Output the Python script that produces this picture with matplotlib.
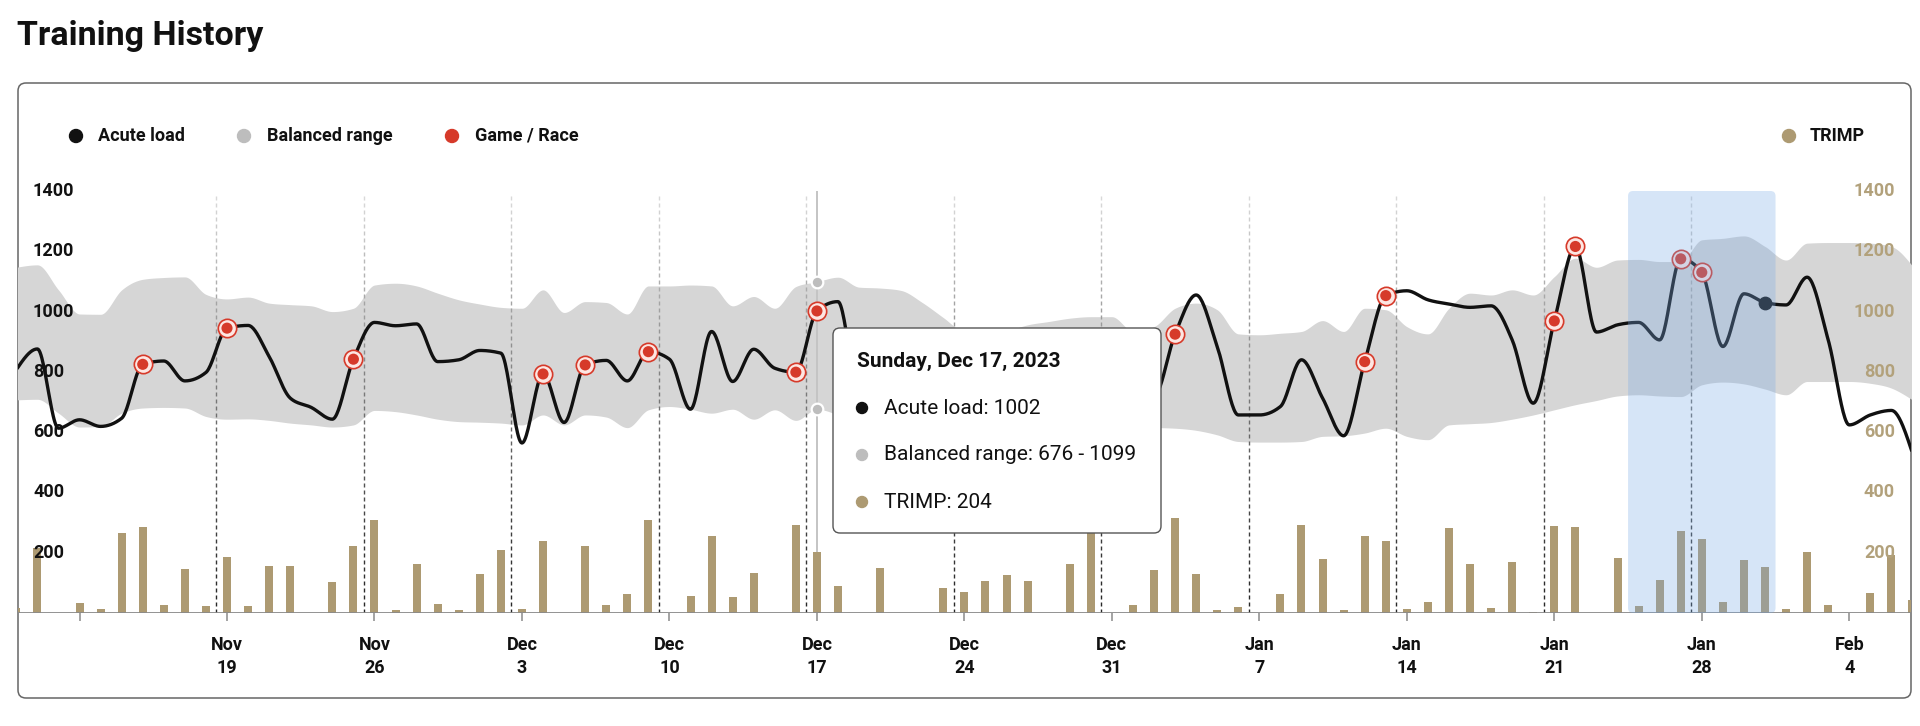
import numpy as np
import pandas as pd
import matplotlib
matplotlib.use("Agg")
import matplotlib.pyplot as plt
import matplotlib.dates as mdates
from matplotlib import transforms
from matplotlib.patches import FancyBboxPatch
from matplotlib.collections import LineCollection

plt.rcParams['font.family'] = ['Roboto', 'DejaVu Sans']

# daily series, Nov 9 2023 .. Feb 7 2024
start_date = "2023-11-09"
acute_load = [
    807, 876, 613, 641, 619, 646, 825, 836, 770, 798, 945, 954, 851, 713, 682, 643,
    842, 964, 953, 959, 834, 840, 871, 862, 564, 793, 632, 823, 838, 770, 867, 842,
    676, 934, 768, 875, 812, 799, 1002, 1033, 720, 690, 760, 820, 780, 700, 690, 760,
    800, 770, 730, 790, 830, 760, 720, 925, 1055, 884, 657, 657, 685, 840, 713, 588,
    834, 1053, 1069, 1039, 1025, 1014, 1019, 906, 696, 969, 1216, 932, 956, 964, 906,
    1175, 1130, 884, 1059, 1030, 1022, 1114, 906, 624, 657, 672, 530,
]
range_high = [
    1147, 1155, 1072, 992, 991, 1072, 1107, 1113, 1115, 1057, 1042, 1048, 1028, 1023,
    1019, 1000, 1011, 1088, 1094, 1085, 1061, 1039, 1025, 1014, 1011, 1072, 997, 1033,
    1030, 992, 1085, 1085, 1088, 1085, 1019, 1050, 1011, 1083, 1099, 1114, 1081, 1078,
    1070, 1030, 980, 930, 920, 935, 956, 967, 978, 983, 983, 935, 950, 1011, 1028, 1006,
    926, 923, 928, 934, 970, 934, 1011, 1006, 950, 926, 1011, 1061, 1055, 1072, 1055,
    1116, 1177, 1147, 1171, 1173, 1166, 1166, 1238, 1243, 1251, 1216, 1171, 1227, 1229,
    1229, 1227, 1216, 1151,
]
range_low = [
    707, 709, 663, 617, 619, 663, 680, 682, 680, 652, 643, 644, 639, 630, 624, 617,
    624, 672, 668, 657, 643, 635, 633, 630, 624, 657, 624, 657, 650, 615, 674, 685,
    676, 663, 676, 643, 674, 639, 676, 657, 624, 625, 630, 632, 628, 630, 632, 630,
    628, 630, 625, 622, 620, 615, 615, 613, 606, 591, 569, 567, 567, 569, 586, 588,
    597, 613, 586, 575, 624, 628, 632, 643, 657, 674, 691, 705, 720, 724, 720, 718,
    757, 766, 760, 743, 724, 768, 768, 768, 762, 746, 707,
]
trimp = [
    15, 215, 0, 33, 13, 267, 284, 28, 146, 22, 185, 22, 155, 155, 0, 102,
    221, 309, 9, 162, 31, 11, 130, 210, 13, 240, 0, 221, 25, 63, 307, 0,
    57, 254, 53, 133, 0, 292, 204, 91, 0, 148, 0, 0, 83, 70, 105, 127,
    105, 0, 164, 300, 0, 28, 144, 315, 129, 11, 19, 0, 64, 293, 179, 11,
    257, 240, 13, 38, 282, 162, 15, 168, 4, 290, 284, 0, 182, 24, 110, 271,
    245, 35, 177, 152, 14, 202, 28, 0, 66, 193, 42,
]
game_days = [
    "2023-11-15", "2023-11-19", "2023-11-25", "2023-12-04", "2023-12-06",
    "2023-12-09", "2023-12-16", "2023-12-17", "2024-01-03", "2024-01-12",
    "2024-01-13", "2024-01-21", "2024-01-22", "2024-01-27", "2024-01-28",
]
week_ticks = pd.date_range("2023-11-12", "2024-02-04", freq="7D")
hover_day = "2023-12-17"
current_day = "2024-01-31"
highlight_week = ("2024-01-25", "2024-01-31")
y_ticks = [200, 400, 600, 800, 1000, 1200, 1400]

BLACK = "#111111"
BAND = "#d6d6d6"
RED = "#d63a2a"
TAN = "#ad9a72"
TAN_TXT = "#b2a17b"
GREY_DOT = "#bdbdbd"

dates = pd.date_range(start_date, periods=len(acute_load), freq="D")
xd = mdates.date2num(dates)
load = pd.Series(acute_load, index=dates)


def monotone(x, y, n=24):
    # d3 curveMonotoneX style rendering
    x = np.asarray(x, float)
    y = np.asarray(y, float)
    h = np.diff(x)
    s = np.diff(y) / h
    t = np.zeros_like(y)
    for i in range(1, len(y) - 1):
        s0, s1 = s[i - 1], s[i]
        p = (s0 * h[i] + s1 * h[i - 1]) / (h[i - 1] + h[i])
        t[i] = (np.sign(s0) + np.sign(s1)) * min(abs(s0), abs(s1), 0.5 * abs(p))
    t[0] = (3 * s[0] - t[1]) / 2
    t[-1] = (3 * s[-1] - t[-2]) / 2
    xs, ys = [], []
    u = np.linspace(0, 1, n, endpoint=False)
    for i in range(len(y) - 1):
        h00 = 2 * u**3 - 3 * u**2 + 1
        h10 = u**3 - 2 * u**2 + u
        h01 = -2 * u**3 + 3 * u**2
        h11 = u**3 - u**2
        xs.append(x[i] + u * h[i])
        ys.append(h00 * y[i] + h10 * h[i] * t[i] + h01 * y[i + 1] + h11 * h[i] * t[i + 1])
    xs.append([x[-1]])
    ys.append([y[-1]])
    return np.concatenate(xs), np.concatenate(ys)


W, H = 1920, 726
fig = plt.figure(figsize=(W / 100, H / 100), dpi=100)
PIX = transforms.IdentityTransform()


def fy(py):
    return 1 - py / H


# card
card = FancyBboxPatch((18, H - 698), 1893, 615, boxstyle="round,pad=0,rounding_size=8",
                      facecolor="white", edgecolor="#666666", linewidth=1.1,
                      transform=PIX, zorder=-5)
fig.patches.append(card)

fig.text(17 / W, fy(45), "Training History", fontsize=24.5, fontweight="bold",
         va="baseline", ha="left", color=BLACK)

ax = fig.add_axes([18 / W, fy(613), (1911 - 18) / W, (613 - 191) / H])
ax.patch.set_alpha(0)
for sp in ax.spines.values():
    sp.set_visible(False)

x0 = mdates.date2num(pd.Timestamp("2023-11-12"))
ax.set_xlim(x0 - 2.92, x0 + 86.93)
ax.set_ylim(0, 1400)

# balanced range band
bx, bhi = monotone(xd, range_high)
_, blo = monotone(xd, range_low)
ax.fill_between(bx, blo, bhi, color=BAND, linewidth=0, zorder=1)

# TRIMP bars
ax.bar(xd, trimp, width=0.38, color=TAN, zorder=2, linewidth=0)

# weekly dashed separators with fading colour
val_per_px = 1400 / 422.0
segs, cols = [], []
for wk in week_ticks[1:-1]:
    xb = mdates.date2num(wk) - 0.5
    yv = 0.0
    while yv < 1390:
        y1 = min(yv + 4 * val_per_px, 1400)
        segs.append([(xb, yv), (xb, y1)])
        g = 0.15 + 0.72 * (yv / 1400) ** 1.2
        cols.append((g, g, g))
        yv += 7 * val_per_px
ax.add_collection(LineCollection(segs, colors=cols, linewidths=1.0, zorder=3))

# hover line
hx = mdates.date2num(pd.Timestamp(hover_day))
ax.plot([hx, hx], [0, 1400], color="#c4c4c4", lw=1.4, zorder=1.5)

# acute load line
lx, ly = monotone(xd, acute_load)
ax.plot(lx, ly, color=BLACK, lw=2.4, zorder=5, solid_capstyle="round")

# game / race markers
gd = pd.to_datetime(game_days)
gx = mdates.date2num(gd)
gy = load.loc[gd].values
ax.scatter(gx, gy, s=175, facecolor="#fde6e2", edgecolor=RED, linewidth=1.2, zorder=6)
ax.scatter(gx, gy, s=64, facecolor=RED, edgecolor="none", zorder=7)

# hover dots on band edges
hi_series = pd.Series(range_high, index=dates)
lo_series = pd.Series(range_low, index=dates)
hd = pd.Timestamp(hover_day)
ax.scatter([hx, hx], [hi_series[hd], lo_series[hd]], s=70, facecolor=GREY_DOT,
           edgecolor="white", linewidth=1.6, zorder=6)

# current day dot
cd = pd.Timestamp(current_day)
ax.scatter([mdates.date2num(cd)], [load[cd]], s=80, color=BLACK, zorder=7)

# baseline and ticks
ax.axhline(0, color="#8a8a8a", lw=1.3, zorder=4)
ax.set_yticks([])
ax.set_xticks(mdates.date2num(week_ticks))
ax.tick_params(axis="x", length=6, width=1.1, color="#8a8a8a", labelbottom=False)

# highlighted week overlay (rounded, drawn over the plot)
hw0 = mdates.date2num(pd.Timestamp(highlight_week[0])) - 0.5
hw1 = mdates.date2num(pd.Timestamp(highlight_week[1])) + 0.5
(px0, py0), (px1, py1) = ax.transData.transform([(hw0, 0), (hw1, 1400)])
overlay = FancyBboxPatch((px0, py0), px1 - px0, py1 - py0,
                         boxstyle="round,pad=0,rounding_size=5", facecolor="#78aae6",
                         alpha=0.30, edgecolor="none", transform=PIX, zorder=5)
fig.patches.append(overlay)

xtr = transforms.blended_transform_factory(ax.transData, fig.transFigure)
for i, wk in enumerate(week_ticks):
    if i == 0:
        continue
    xv = mdates.date2num(wk)
    ax.text(xv, fy(645), wk.strftime("%b"), transform=xtr, ha="center", va="center",
            fontsize=13, fontweight="bold", color=BLACK)
    ax.text(xv, fy(668), str(wk.day), transform=xtr, ha="center", va="center",
            fontsize=13, fontweight="bold", color=BLACK)

ytr = transforms.blended_transform_factory(fig.transFigure, ax.transData)
for v in y_ticks:
    ax.text(33 / W, v, str(v), transform=ytr, ha="left", va="center", fontsize=13,
            fontweight="bold", color=BLACK, zorder=4.5)
    ax.text(1895 / W, v, str(v), transform=ytr, ha="right", va="center", fontsize=13,
            fontweight="bold", color=TAN_TXT, zorder=4.5)

# legend
legend_items = [(76, 98, "Acute load", BLACK), (244, 267, "Balanced range", GREY_DOT),
                (452, 475, "Game / Race", RED), (1789, 1810, "TRIMP", TAN)]
for mx, tx, label, c in legend_items:
    fig.patches.append(plt.Circle((mx, H - 136), 6.5, color=c, transform=PIX))
    fig.text(tx / W, fy(136), label, fontsize=13, fontweight="bold", va="center",
             ha="left", color=BLACK)

# tooltip
tip = FancyBboxPatch((833, H - 533), 328, 205, boxstyle="round,pad=0,rounding_size=7",
                     facecolor="white", edgecolor="#555555", linewidth=1.0,
                     transform=PIX, zorder=10)
fig.patches.append(tip)
fig.text(857 / W, fy(361), hd.strftime("%A, %b %d, %Y").replace(" 0", " "),
         fontsize=15, fontweight="bold", va="center", ha="left", color=BLACK, zorder=11)
tip_rows = [
    (408, BLACK, f"Acute load: {load[hd]}"),
    (455, GREY_DOT, f"Balanced range: {lo_series[hd]} - {hi_series[hd]}"),
    (502, TAN, f"TRIMP: {pd.Series(trimp, index=dates)[hd]}"),
]
for py, c, label in tip_rows:
    fig.patches.append(plt.Circle((862, H - py), 5.5, color=c, transform=PIX, zorder=11))
    fig.text(884 / W, fy(py), label, fontsize=15, va="center", ha="left",
             color=BLACK, zorder=11)

fig.savefig("out.png", dpi=100)
